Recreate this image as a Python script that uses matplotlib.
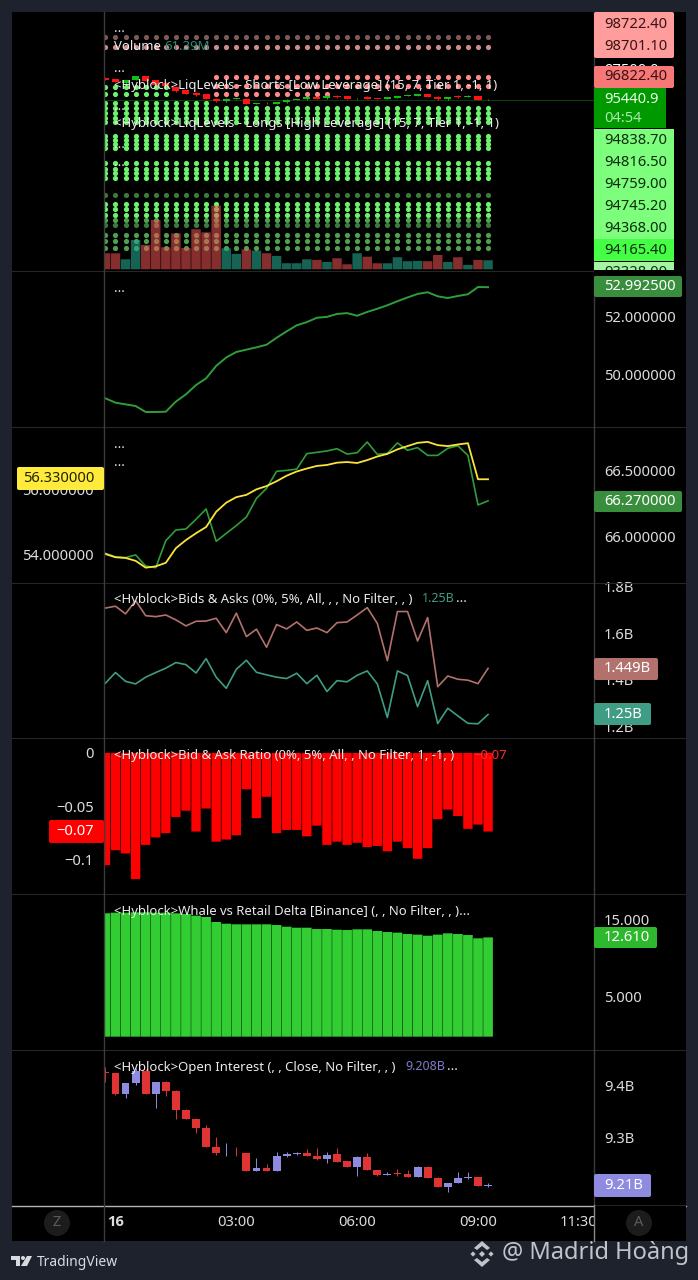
import matplotlib
matplotlib.use("Agg")
import matplotlib.pyplot as plt
from matplotlib.patches import Rectangle, FancyBboxPatch, Circle, Polygon

plt.rcParams['font.family'] = ['Noto Sans', 'DejaVu Sans']

# main pane candles
main_open = [96744,96665,96406,96605,96844,96605,96446,96167,96008,95849,95749,95491,95351,95471,95491,95192,95252,95192,95272,95411,95451,95570,95510,95650,95630,95510,95610,95530,95491,95550,95650,95650,95769,95610,95451,95630,95610,95630,95431]
main_close = [96605,96486,96605,96844,96565,96307,96247,95968,95769,95690,95471,95351,95491,95530,95172,95252,95212,95292,95431,95471,95570,95491,95670,95570,95491,95550,95471,95471,95570,95650,95690,95769,95590,95451,95590,95570,95650,95411,95441]
main_high = [96764,96685,96625,96864,96864,96625,96466,96247,96028,95900,95769,95511,95530,95550,95511,95212,95292,95312,95451,95471,95590,95650,95690,95690,95670,95550,95650,95550,95590,95670,95710,95789,95789,95650,95610,95730,95730,95650,95491]
main_low = [96585,96466,96386,96585,96545,96287,96227,95900,95749,95630,95451,95312,95312,95451,95152,95172,95172,95172,95252,95391,95431,95471,95490,95530,95471,95490,95451,95451,95471,95530,95630,95630,95570,95431,95431,95550,95590,95391,95431]
volume = [109,109,68,200,166,336,150,245,145,273,252,434,143,105,136,127,109,91,41,41,68,64,50,75,34,109,86,41,41,82,55,57,55,98,50,82,30,64,61.39]

# liquidation levels, (price, first column, last column)
short_dim = [(99152,0,38)]
short_mid = [(98555,0,38)]
short_bright = [(96764,11,38),(96247,11,38),(95769,11,22)]
long_bright = [(96167,0,6),(95769,0,6),(95212,0,10),(94913,0,38),(94615,0,38),(94316,0,38),(94117,0,38),
               (93262,0,38),(93023,0,38),(92784,0,38),(92525,0,38),(91630,0,38),(91272,0,38),(91033,0,38),(90735,0,38),
               (89202,0,38),(88884,0,38),(88546,0,38)]
long_mid = [(88247,0,38),(87352,0,38),(87013,0,38),(86556,0,38)]
long_dim = [(89720,0,38),(87948,0,38)]

rsi_line = [49.161,49.011,48.954,48.896,48.69,48.69,48.70,49.05,49.30,49.62,49.85,50.28,50.57,50.76,50.84,50.92,51.01,51.25,51.47,51.68,51.79,51.94,51.97,52.07,52.10,52.01,52.14,52.25,52.37,52.51,52.64,52.76,52.82,52.68,52.62,52.69,52.75,53.0,52.9925]
yellow_line = [54.03,53.93,53.91,53.82,53.61,53.65,53.76,54.21,54.46,54.67,54.86,55.33,55.61,55.78,55.85,56.02,56.12,56.27,56.44,56.57,56.66,56.74,56.77,56.84,56.86,56.83,56.92,57.03,57.11,57.25,57.35,57.45,57.48,57.38,57.35,57.40,57.44,56.33,56.33]
green_line = [65.878,65.851,65.846,65.866,65.783,65.771,65.973,66.052,66.06,66.132,66.209,65.968,66.027,66.085,66.149,66.288,66.363,66.49,66.497,66.507,66.622,66.632,66.642,66.659,66.619,66.629,66.709,66.617,66.624,66.702,66.647,66.667,66.609,66.609,66.662,66.681,66.609,66.239,66.27]
asks = [1.709,1.717,1.684,1.741,1.676,1.672,1.679,1.658,1.632,1.652,1.653,1.665,1.603,1.687,1.586,1.618,1.540,1.638,1.619,1.649,1.613,1.623,1.603,1.646,1.649,1.679,1.711,1.643,1.482,1.694,1.694,1.567,1.668,1.370,1.416,1.402,1.398,1.383,1.449]
bids = [1.385,1.431,1.393,1.382,1.411,1.431,1.450,1.474,1.465,1.429,1.491,1.411,1.363,1.445,1.484,1.432,1.421,1.411,1.405,1.428,1.383,1.419,1.349,1.396,1.391,1.419,1.438,1.382,1.237,1.438,1.418,1.284,1.396,1.211,1.277,1.244,1.212,1.210,1.25]
ratio = [-.105,-.091,-.094,-.118,-.086,-.079,-.075,-.060,-.054,-.0735,-.052,-.083,-.081,-.077,-.034,-.061,-.041,-.075,-.072,-.072,-.078,-.068,-.086,-.083,-.086,-.084,-.088,-.087,-.092,-.083,-.089,-.099,-.089,-.062,-.053,-.059,-.071,-.067,-.0735]
whale = [15.74,15.82,15.82,15.87,15.87,15.82,15.82,15.74,15.65,15.43,15.26,14.61,14.39,14.31,14.31,14.31,14.31,14.22,14.0,13.87,13.87,13.70,13.70,13.61,13.57,13.66,13.66,13.44,13.31,13.23,13.05,12.97,12.83,12.97,13.14,13.05,12.92,12.49,12.61]
oi_open = [9.4269,9.4250,9.3852,9.4064,9.4295,9.3852,9.4077,9.3910,9.3538,9.3365,9.3192,9.2827,9.2705,9.2718,9.2718,9.2365,9.2429,9.2365,9.2647,9.2692,9.2718,9.2654,9.2596,9.2686,9.2551,9.2448,9.2641,9.2378,9.2295,9.2327,9.2301,9.2256,9.2448,9.2237,9.2058,9.2134,9.2224,9.2250,9.2083]
oi_close = [9.4250,9.3852,9.4064,9.4295,9.3852,9.4077,9.3904,9.3538,9.3365,9.3192,9.2827,9.2711,9.2718,9.2705,9.2365,9.2429,9.2365,9.2647,9.2692,9.2718,9.2654,9.2590,9.2679,9.2545,9.2448,9.2634,9.2384,9.2295,9.2314,9.2314,9.2256,9.2448,9.2237,9.2058,9.2134,9.2224,9.2250,9.2083,9.2096]
oi_high = [9.4372,9.4250,9.4064,9.4339,9.4320,9.4077,9.4102,9.3923,9.3551,9.3378,9.3250,9.3025,9.2910,9.2820,9.2718,9.2609,9.2500,9.2730,9.2737,9.2737,9.2795,9.2801,9.2737,9.2808,9.2564,9.2647,9.2718,9.2384,9.2352,9.2397,9.2384,9.2455,9.2455,9.2243,9.2141,9.2352,9.2352,9.2256,9.2141]
oi_low = [9.4083,9.3827,9.3763,9.4019,9.3846,9.3570,9.3814,9.3359,9.3359,9.3089,9.2820,9.2673,9.2654,9.2654,9.2359,9.2359,9.2359,9.2365,9.2641,9.2679,9.2654,9.2577,9.2513,9.2545,9.2442,9.2269,9.2378,9.2269,9.2282,9.2269,9.2250,9.2256,9.2230,9.2051,9.1968,9.2128,9.2218,9.2077,9.2064]

time_ticks = [1, 13, 25, 37, 47]
time_labels = ['16', '03:00', '06:00', '09:00', '11:30']

W, H = 698, 1280
cols = list(range(39))
FRAME = '#1e222d'
GRID = '#262626'
TICK = '#dcdcdc'
NUM = 10.6

fig = plt.figure(figsize=(W / 100, H / 100), dpi=100, facecolor=FRAME)
fig.patches.append(Rectangle((12 / W, 1 - 1241 / H), 674 / W, 1229 / H, transform=fig.transFigure, fc='black', ec='none', zorder=-5))


def pane(y0, y1, ylim):
    ax = fig.add_axes([104 / W, 1 - y1 / H, 490 / W, (y1 - y0) / H], facecolor='black')
    ax.set_xlim(-0.14, 48.52)
    ax.set_ylim(*ylim)
    ax.set_xticks([])
    ax.set_yticks([])
    for s in ax.spines.values():
        s.set_visible(False)
    return ax


def yticks(ax, vals, labels, side):
    if side == 'right':
        ax.yaxis.tick_right()
    else:
        ax.yaxis.tick_left()
    ax.set_yticks(vals)
    ax.set_yticklabels(labels)
    ax.tick_params(axis='y', length=0, pad=7.2, labelsize=NUM, labelcolor=TICK)


def soft(bars):
    # no pixel snapping, so the gaps between bars stay even
    for b in bars:
        b.set_snap(False)


def candles(ax, o, c, hi, lo, up, down, width):
    colors = [up if b >= a else down for a, b in zip(o, c)]
    ax.vlines(cols, lo, hi, colors=colors, lw=0.7)
    ax.bar(cols, [abs(b - a) for a, b in zip(o, c)], bottom=[min(a, b) for a, b in zip(o, c)],
           width=width, color=colors, lw=0)


def dots(ax, rows, color):
    for price, first, last in rows:
        ax.scatter(cols[first:last + 1], [price] * (last - first + 1), s=14, color=color, linewidths=0, zorder=1)


# pane 1 price + liq levels + volume
ax1 = pane(12, 270, (85262, 100665))
dots(ax1, short_dim, '#7d5a5a')
dots(ax1, short_mid, '#d08c8c')
dots(ax1, short_bright, '#ff8a8a')
dots(ax1, long_mid, '#4fa04f')
dots(ax1, long_dim, '#3d7a3d')
dots(ax1, long_bright, '#6cf26c')
ax1.axhline(main_close[-1], color='#0b4c0b', lw=0.6, zorder=1)
candles(ax1, main_open, main_close, main_high, main_low, '#10c010', '#ff1414', 0.7)
ax1v = ax1.twinx()
ax1v.set_ylim(-5, 1755)
ax1v.set_yticks([])
for s in ax1v.spines.values():
    s.set_visible(False)
vol_colors = [(0.15, 0.65, 0.55, 0.6) if b >= a else (0.96, 0.33, 0.33, 0.55) for a, b in zip(main_open, main_close)]
soft(ax1v.bar(cols, volume, width=0.94, color=vol_colors, lw=0))

# pane 2
ax2 = pane(271, 426, (48.207, 53.552))
ax2.plot(cols, rsi_line, color='#2e9e3a', lw=1.4)
yticks(ax2, [50, 52], ['50.000000', '52.000000'], 'right')

# pane 3, two scales
ax3 = pane(427, 582, (53.169, 57.938))
ax3.plot(cols, yellow_line, color='#fbe43a', lw=1.3, zorder=3)
yticks(ax3, [54, 56], ['54.000000', '56.000000'], 'left')
ax3r = ax3.twinx()
ax3r.set_ylim(65.664, 66.821)
for s in ax3r.spines.values():
    s.set_visible(False)
ax3r.plot(cols, green_line, color='#2e9e3a', lw=1.2, zorder=2)
ax3.set_zorder(ax3r.get_zorder() + 1)
ax3.patch.set_visible(False)
ax3r.patch.set_facecolor('black')
yticks(ax3r, [66, 66.5], ['66.000000', '66.500000'], 'right')

# pane 4
ax4 = pane(583, 737, (1.153, 1.817))
ax4.plot(cols, asks, color='#b2716d', lw=1.2)
ax4.plot(cols, bids, color='#3f9c85', lw=1.2)
yticks(ax4, [1.2, 1.4, 1.6, 1.8], ['1.2B', '1.4B', '1.6B', '1.8B'], 'right')

# pane 5
ax5 = pane(738, 893, (-.131, .014))
soft(ax5.bar(cols, ratio, width=0.93, color='#ff0000', lw=0))
yticks(ax5, [-0.1, -0.05, 0], ['\u22120.1', '\u22120.05', '0'], 'left')

# pane 6
ax6 = pane(894, 1049, (-1.883, 18.247))
soft(ax6.bar(cols, [v + 0.28 for v in whale], bottom=-0.28, width=0.96, color='#32cd32', lw=0))
yticks(ax6, [5, 15], ['5.000', '15.000'], 'right')

# pane 7
ax7 = pane(1050, 1205, (9.171, 9.469))
candles(ax7, oi_open, oi_close, oi_high, oi_low, '#8f8be0', '#e03333', 0.78)
yticks(ax7, [9.3, 9.4], ['9.3B', '9.4B'], 'right')
ax7.set_xticks(time_ticks)
ax7.set_xticklabels(time_labels)
ax7.tick_params(axis='x', length=0, pad=7, labelsize=NUM, labelcolor=TICK)
ax7.get_xticklabels()[0].set_fontfamily('Open Sans')
ax7.get_xticklabels()[0].set_fontweight('bold')

# overlay in pixels: legends, price tags, frame lines
ov = fig.add_axes([0, 0, 1, 1], facecolor='none', zorder=20)
ov.set_xlim(0, W)
ov.set_ylim(H, 0)
ov.axis('off')

for y in [270.5, 426.5, 582.5, 737.5, 893.5, 1049.5]:
    ov.plot([12, 686], [y, y], color=GRID, lw=0.8)
ov.plot([12, 686], [1205.5, 1205.5], color='#b4b4b4', lw=1)
ov.plot([104, 104], [12, 1241], color='#3c3c3c', lw=1)
ov.add_patch(Rectangle((595, 1206), 91, 35, fc='black', ec='none', zorder=2))
ov.plot([594, 594], [12, 1205], color='#3c3c3c', lw=1, zorder=3)
ov.plot([594, 594], [1205, 1241], color='#8a8a8a', lw=1, zorder=3)


def legend(x, y, s, color='#ececec', size=9.45):
    ov.text(x, y, s, color=color, fontsize=size, va='center', ha='left', zorder=6)


legend(114, 29, '...')
legend(114, 47, 'Volume')
legend(164, 47, '61.39M', color='#2b8a74')
legend(114, 68, '...')
legend(114, 86, '<Hyblock>LiqLevels - Shorts [Low Leverage] (15, 7, Tier 1, -1, 1)')
legend(114, 107, '...')
legend(114, 124, '<Hyblock>LiqLevels - Longs [High Leverage] (15, 7, Tier 1, -1, 1)')
legend(114, 144, '...')
legend(114, 163, '...')
legend(114, 288, '...')
legend(114, 444, '...')
legend(114, 463, '...')
legend(114, 599, '<Hyblock>Bids & Asks (0%, 5%, All, , , No Filter, , )')
legend(422, 599, '1.25B', color='#3f9c85', size=9)
legend(456, 599, '...')
legend(114, 755.5, '<Hyblock>Bid & Ask Ratio (0%, 5%, All, , No Filter, 1, -1, )')
legend(473, 755.5, '\u22120.07', color='#ff2a2a')
legend(114, 911.5, '<Hyblock>Whale vs Retail Delta [Binance] (, , No Filter, , )...')
legend(114, 1067, '<Hyblock>Open Interest (, , Close, No Filter, , )')
legend(405, 1067, '9.208B', color='#7c7cc8', size=9)
legend(447, 1067, '...')


def tag(x0, x1, y0, y1, fc, s=None, tc='white', tx=604, ha='left', rounded=True):
    style = 'round,pad=0,rounding_size=2' if rounded else 'square,pad=0'
    ov.add_patch(FancyBboxPatch((x0, y0), x1 - x0, y1 - y0, boxstyle=style, fc=fc, ec='none', zorder=4))
    if s:
        ov.text(tx, (y0 + y1) / 2, s, color=tc, fontsize=NUM, va='center', ha=ha, zorder=5)


# stacked tags of the price scale
ov.text(604, 70, '97500.0', color='white', fontsize=NUM, va='center', zorder=3)
ov.text(604, 272, '93328.00', color='#123312', fontsize=NUM, va='center', zorder=4.5)
tag(594, 674, 12, 58, '#ff9c9c', None)
ov.text(604, 25, '98722.40', color='#3a1414', fontsize=NUM, va='center', zorder=5)
ov.text(604, 47, '98701.10', color='#3a1414', fontsize=NUM, va='center', zorder=5)
tag(594, 674, 66, 88, '#f87878', '96822.40', tc='#3a1010')
tag(594, 666, 88, 128, '#009a00', None, rounded=False)
ov.text(604, 99.5, '95440.9', color='#eaffea', fontsize=NUM, va='center', zorder=5)
ov.text(604, 118, '04:54', color='#a8e8a8', fontsize=NUM, va='center', zorder=5)
tag(594, 674, 129, 239, '#7dff7d', None, rounded=False)
for yy, s in zip([140, 162, 184, 206, 228], ['94838.70', '94816.50', '94759.00', '94745.20', '94368.00']):
    ov.text(604, yy, s, color='#0c2c0c', fontsize=NUM, va='center', zorder=5)
tag(594, 674, 239, 261, '#44ff44', '94165.40', tc='#0c2c0c', rounded=False)
tag(594, 674, 262, 270, '#a4f4a4', None, rounded=False)
ov.add_patch(Rectangle((594, 270), 92, 6, fc='black', ec='none', zorder=4.8))

tag(594, 682, 276, 297, '#388e3c', '52.992500')
tag(17, 104, 467, 490, '#ffeb3b', '56.330000', tc='#222200', tx=94, ha='right')
tag(594, 682, 491, 512, '#388e3c', '66.270000')
tag(594, 658, 658, 680, '#b2716d', '1.449B')
tag(594, 651, 703, 725, '#3f9c85', '1.25B')
tag(49, 104, 820, 843, '#ff0000', '\u22120.07', tx=94, ha='right')
tag(594, 657, 927, 948, '#2eb82e', '12.610')
tag(594, 651, 1174, 1197, '#8f8be0', '9.21B')

# Z / A buttons
for cx, s in [(57, 'Z'), (639, 'A')]:
    ov.add_patch(Circle((cx, 1223), 13, fc='#1c1c1c', ec='none', zorder=5))
    ov.text(cx, 1223, s, color='#5c5c5c', fontsize=NUM, ha='center', va='center', zorder=6)

# TradingView logo + name
LOGO = '#d8dae0'
ov.add_patch(Polygon([(11, 1256), (20, 1256), (20, 1266), (16, 1266), (16, 1260), (11, 1260)], fc=LOGO, ec='none'))
ov.add_patch(Circle((23, 1258), 2, fc=LOGO, ec='none'))
ov.add_patch(Polygon([(27, 1256), (32, 1256), (27, 1266), (21, 1266)], fc=LOGO, ec='none'))
ov.text(37, 1262, 'TradingView', color=LOGO, fontsize=10, va='center', ha='left')

# Binance watermark
WM = '#c0c4ca'
for cx, cy, r in [(482, 1254, 3), (473, 1254, 2.6), (491, 1254, 2.6)]:
    ov.add_patch(Polygon([(cx - r, cy), (cx, cy - r), (cx + r, cy), (cx, cy + r)], fc=WM, ec='none'))
ov.add_patch(Polygon([(482, 1241), (490, 1248), (487, 1250), (482, 1246), (477, 1250), (474, 1248)], fc=WM, ec='none'))
ov.add_patch(Polygon([(482, 1267), (490, 1260), (487, 1258), (482, 1262), (477, 1258), (474, 1260)], fc=WM, ec='none'))
ov.text(502, 1253, '@ Madrid Ho\u00e0ng', color=WM, fontsize=17, va='center', ha='left')

fig.savefig('out.png', dpi=100, facecolor=FRAME)
